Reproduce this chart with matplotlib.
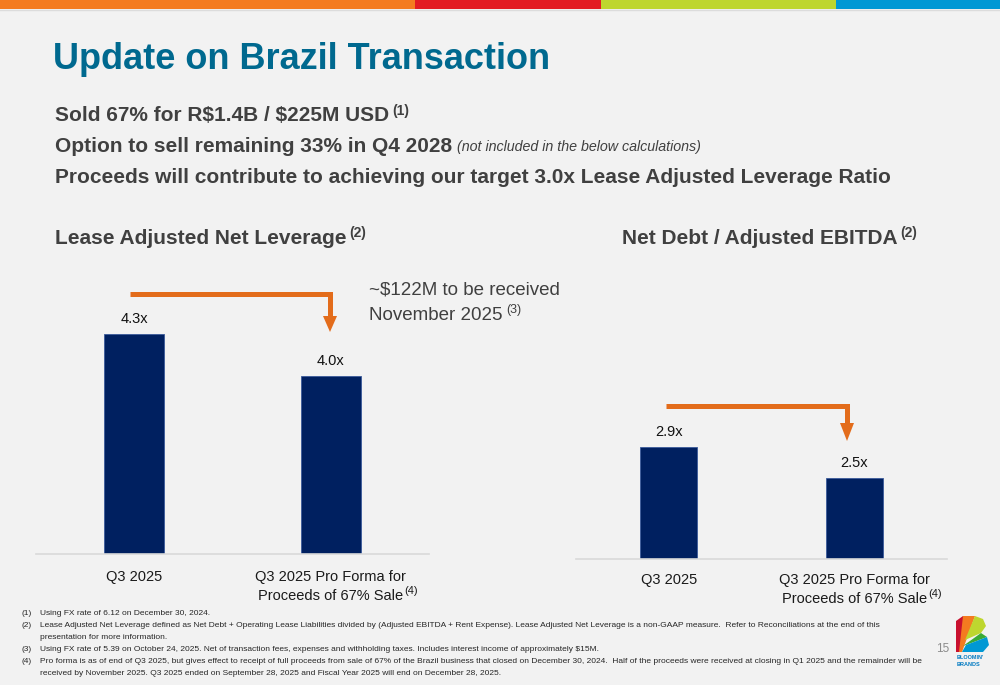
import matplotlib
matplotlib.use("Agg")
import matplotlib.pyplot as plt
from matplotlib.lines import Line2D
from matplotlib.patches import Polygon, Rectangle
from matplotlib.transforms import blended_transform_factory

# data
categories = ["Q3 2025", "Q3 2025 Pro Forma for", "Proceeds of 67% Sale"]
lev_values = [4.3, 4.0]      # Lease Adjusted Net Leverage
nd_values = [2.9, 2.5]       # Net Debt / Adjusted EBITDA

FONT = ["Liberation Sans", "DejaVu Sans"]
GRAY = "#404040"
NAVY = "#002060"
ORANGE = "#e36c1b"
TEAL = "#00698f"
BG = "#f2f2f2"

W, H = 1000, 685
fig = plt.figure(figsize=(10, 6.85), dpi=100, facecolor=BG)
r = fig.canvas.get_renderer()


def fx(x):
    return x / W


def fy(y):
    return 1 - y / H


def put(x, y, s, **kw):
    kw.setdefault("family", FONT)
    kw.setdefault("va", "baseline")
    return fig.text(fx(x), fy(y), s, **kw)


def after(t, y, s, gap=3, **kw):
    bb = t.get_window_extent(renderer=r)
    return put(bb.x1 + gap, y, s, **kw)


# top colour stripe
for x0, x1, c in [(0, 415, "#f47b20"), (415, 601, "#e31b23"),
                  (601, 836, "#bed62f"), (836, 1000, "#0098d4")]:
    fig.add_artist(Rectangle((fx(x0), fy(9)), fx(x1 - x0), 9 / H,
                             transform=fig.transFigure, color=c, lw=0))
fig.add_artist(Line2D([0, 1], [fy(10), fy(10)], transform=fig.transFigure,
                      color="#dcdcdc", lw=1))

# title + bullets
put(53, 69, "Update on Brazil Transaction", fontsize=26, weight="bold", color=TEAL)
t = put(55, 121, "Sold 67% for R\\$1.4B / \\$225M USD", fontsize=15, weight="bold", color=GRAY)
after(t, 115, "(1)", fontsize=10, weight="bold", color=GRAY)
t = put(55, 152, "Option to sell remaining 33% in Q4 2028", fontsize=15, weight="bold", color=GRAY)
after(t, 151, "(not included in the below calculations)", gap=5, fontsize=10.3,
      style="italic", color=GRAY)
put(55, 183, "Proceeds will contribute to achieving our target 3.0x Lease Adjusted Leverage Ratio",
    fontsize=15, weight="bold", color=GRAY)
t = put(55, 244, "Lease Adjusted Net Leverage", fontsize=15, weight="bold", color=GRAY)
after(t, 237, "(2)", fontsize=10, weight="bold", color=GRAY)
t = put(622, 244, "Net Debt / Adjusted EBITDA", fontsize=15, weight="bold", color=GRAY)
after(t, 237, "(2)", fontsize=10, weight="bold", color=GRAY)


def bar_panel(left, right, base, top, vals, vmin, ppu, lab_y):
    ax = fig.add_axes([fx(left), fy(base), fx(right - left), (base - top) / H])
    ax.set_facecolor("none")
    bars = ax.bar([0, 1], vals, width=0.305, color=NAVY, edgecolor="#3a5a9a", lw=0.6)
    ax.set_xlim(-0.5, 1.5)
    ax.set_ylim(vmin, vmin + (base - top) / ppu)
    for s in ["top", "left", "right"]:
        ax.spines[s].set_visible(False)
    ax.spines["bottom"].set_color("#d9d9d9")
    ax.spines["bottom"].set_linewidth(1.2)
    ax.set_xticks([])
    ax.set_yticks([])
    ax.bar_label(bars, labels=[f"{v:.1f}x" for v in vals], padding=5.5,
                 fontsize=10.5, family=FONT, color="#111111")
    tr = blended_transform_factory(ax.transData, fig.transFigure)
    kw = dict(fontsize=10.5, family=FONT, color="#1a1a1a", ha="center", va="baseline",
              transform=tr)
    ax.text(0, fy(lab_y), categories[0], **kw)
    ax.text(1, fy(lab_y), categories[1], **kw)
    t2 = ax.text(1, fy(lab_y + 19), categories[2], **kw)
    after(t2, lab_y + 13, "(4)", gap=1, fontsize=8, color="#1a1a1a")
    return ax


bar_panel(36, 429, 554, 280, lev_values, 2.729, 140.0, 581)
bar_panel(576, 947, 559, 380, nd_values, 1.455, 77.5, 584)


def elbow_arrow(x0, x1, y0, y1, tip):
    fig.add_artist(Line2D([fx(x0), fx(x1), fx(x1)], [fy(y0), fy(y0), fy(y1 + 1)],
                          transform=fig.transFigure, color=ORANGE, lw=3.6,
                          solid_joinstyle="miter", solid_capstyle="butt"))
    fig.add_artist(Polygon([(fx(x1 - 7), fy(y1)), (fx(x1 + 7), fy(y1)), (fx(x1), fy(tip))],
                           closed=True, transform=fig.transFigure, color=ORANGE, lw=0))


elbow_arrow(130, 330, 294, 316, 332)
elbow_arrow(666, 847, 406, 423, 441)

put(369, 294, "~\\$122M to be received", fontsize=13.5, color=GRAY)
t = put(369, 320, "November 2025", fontsize=13.5, color=GRAY)
after(t, 313, "(3)", gap=4, fontsize=9, color=GRAY)

# footnotes
notes = [
    ("(1)", 615, "Using FX rate of 6.12 on December 30, 2024."),
    ("(2)", 627, "Lease Adjusted Net Leverage defined as Net Debt + Operating Lease Liabilities divided by "
                 "(Adjusted EBITDA + Rent Expense). Lease Adjusted Net Leverage is a non-GAAP measure.  "
                 "Refer to Reconciliations at the end of this"),
    ("", 639, "presentation for more information."),
    ("(3)", 651, "Using FX rate of 5.39 on October 24, 2025. Net of transaction fees, expenses and "
                 "withholding taxes. Includes interest income of approximately \\$15M."),
    ("(4)", 663, "Pro forma is as of end of Q3 2025, but gives effect to receipt of full proceeds from sale "
                 "of 67% of the Brazil business that closed on December 30, 2024.  Half of the proceeds were "
                 "received at closing in Q1 2025 and the remainder will be"),
    ("", 675, "received by November 2025. Q3 2025 ended on September 28, 2025 and Fiscal Year 2025 "
              "will end on December 28, 2025."),
]
for num, y, txt in notes:
    if num:
        put(22, y, num, fontsize=6.0, color="#262626")
    put(40, y, txt, fontsize=6.0, color="#262626")

put(936, 652, "15", fontsize=8.5, color="#8c8c8c")

# rough Bloomin' Brands logo
logo = [
    ("#c8102e", [(956, 621), (963, 616), (966, 616), (960, 652), (956, 652)]),
    ("#f47b20", [(963, 616), (975, 616), (962, 652), (959, 652)]),
    ("#bed62f", [(975, 616), (983, 619), (986, 626), (981, 633), (965, 640)]),
    ("#3aaa35", [(981, 633), (987, 637), (966, 645), (963, 646)]),
    ("#0098d4", [(987, 637), (989, 645), (983, 652), (962, 652), (966, 645)]),
]
for c, pts in logo:
    fig.add_artist(Polygon([(fx(x), fy(y)) for x, y in pts], closed=True,
                           transform=fig.transFigure, color=c, lw=0))
put(957, 659, "BLOOMIN'", fontsize=4.0, weight="bold", color="#0079c1")
put(957, 666.5, "BRANDS", fontsize=4.0, weight="bold", color="#0079c1")

fig.savefig("out.png", dpi=100, facecolor=BG)
